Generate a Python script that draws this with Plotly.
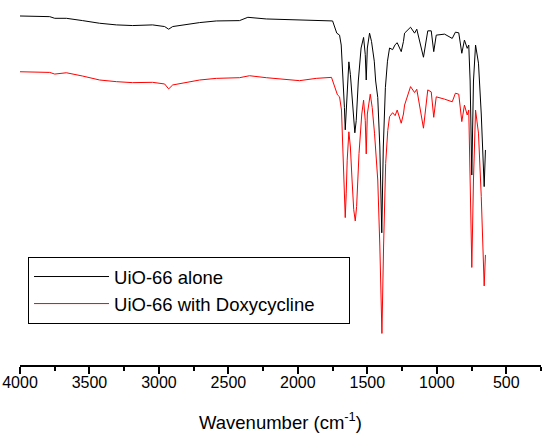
import plotly.graph_objects as go

# Wavenumbers (cm-1) and transmittance (arbitrary %)
wn_alone = [4000, 3786, 3750, 3666, 3549, 3427, 3306, 3189, 3046, 2959, 2930, 2901,
            2707, 2587, 2420, 2360, 2227, 1988, 1772, 1750, 1720, 1700, 1688, 1675,
            1665, 1659, 1652, 1645, 1633, 1622, 1610, 1598, 1590, 1580, 1565, 1545,
            1527, 1515, 1508, 1500, 1484, 1470, 1450, 1440, 1432, 1425, 1410, 1396,
            1385, 1370, 1355, 1340, 1318, 1300, 1285, 1256, 1240, 1232, 1189, 1160,
            1144, 1096, 1065, 1040, 1022, 1004, 944, 889, 866, 842, 820, 801, 781,
            770, 760, 748, 736, 721, 700, 680, 659, 650]
t_alone = [99.7, 99.5, 99.0, 99.0, 98.3, 97.5, 97.0, 96.8, 97.0, 96.5, 95.7, 96.5,
           97.7, 98.2, 98.3, 99.3, 98.8, 98.5, 98.3, 98.2, 94.5, 93.9, 90.9, 82.0,
           72.0, 65.2, 70.0, 78.0, 85.8, 82.0, 75.0, 67.0, 64.3, 68.0, 80.0, 90.0,
           93.2, 88.0, 80.3, 90.0, 94.5, 92.0, 86.0, 80.0, 77.9, 75.0, 60.0, 34.0,
           60.0, 78.0, 86.0, 90.0, 89.5, 91.0, 91.6, 88.9, 92.0, 94.5, 96.3, 94.5,
           95.7, 87.2, 95.2, 95.2, 88.9, 93.9, 94.2, 92.9, 94.8, 94.6, 88.4, 92.4, 89.9,
           90.9, 80.0, 51.5, 80.0, 90.9, 85.4, 70.0, 48.0, 59.1]

wn_doxy = [4000, 3786, 3750, 3666, 3549, 3427, 3306, 3189, 3046, 2959, 2930, 2901,
           2707, 2587, 2420, 2348, 2227, 2131, 1988, 1868, 1758, 1715, 1700, 1686,
           1675, 1665, 1659, 1652, 1645, 1633, 1622, 1610, 1598, 1587, 1577, 1560,
           1540, 1527, 1515, 1508, 1500, 1479, 1465, 1448, 1438, 1432, 1425, 1410,
           1395, 1383, 1368, 1353, 1340, 1318, 1300, 1285, 1256, 1240, 1232, 1189,
           1160, 1144, 1096, 1065, 1040, 1022, 1004, 944, 889, 866, 842, 820, 801,
           781, 770, 760, 748, 736, 721, 700, 680, 659, 650]
t_doxy = [82.8, 82.6, 82.1, 82.5, 81.5, 80.3, 79.8, 79.5, 79.6, 79.1, 77.6, 78.8,
          80.3, 80.8, 81.0, 81.6, 81.0, 80.6, 80.1, 80.8, 81.1, 75.8, 75.2, 71.2,
          60.0, 46.0, 38.6, 46.0, 56.0, 64.6, 60.0, 50.0, 41.0, 37.6, 42.0, 58.0,
          70.0, 74.2, 68.0, 57.9, 70.0, 76.0, 72.0, 64.0, 58.0, 55.2, 50.0, 30.0,
          3.5, 30.0, 55.0, 65.0, 69.2, 70.4, 69.5, 71.2, 67.2, 70.0, 72.7, 78.3,
          76.5, 77.5, 65.7, 77.3, 76.7, 69.0, 75.2, 74.5, 73.7, 76.3, 76.0, 67.7, 72.7,
          69.7, 71.2, 50.0, 23.5, 50.0, 71.2, 64.2, 45.0, 17.9, 27.3]

x_ticks = [4000, 3500, 3000, 2500, 2000, 1500, 1000, 500]

FONT = "Liberation Sans, Arial, sans-serif"

fig = go.Figure()
fig.add_trace(go.Scatter(x=wn_doxy, y=t_doxy, mode="lines", name="UiO-66 with Doxycycline",
                         line=dict(color="#ff0000", width=1)))
fig.add_trace(go.Scatter(x=wn_alone, y=t_alone, mode="lines", name="UiO-66 alone",
                         line=dict(color="#000000", width=1)))

fig.update_layout(
    width=550, height=433,
    margin=dict(l=20, r=9, t=5, b=68),
    paper_bgcolor="white", plot_bgcolor="white",
    font=dict(family=FONT, color="black", size=16),
    showlegend=True,
    legend=dict(x=0.0154, y=0.3, xanchor="left", yanchor="top",
                orientation="h", entrywidth=230, entrywidthmode="pixels",
                traceorder="reversed",
                bordercolor="black", borderwidth=1, bgcolor="white",
                font=dict(size=18.5, family=FONT), itemwidth=75,
                tracegroupgap=0),
    xaxis=dict(range=[4000, 250], tickvals=x_ticks, ticktext=[str(v) for v in x_ticks],
               automargin=False,
               showgrid=False, zeroline=False, showline=True, linecolor="black",
               linewidth=1.5, ticks="outside", ticklen=7, tickwidth=1.5,
               tickcolor="black", tickfont=dict(size=16, family=FONT),
               ticklabelstandoff=-5,
               minor=dict(dtick=250, tick0=0, ticks="outside", ticklen=4,
                          tickwidth=1.5, tickcolor="black"),
               title=dict(text="Wavenumber (cm<sup>-1</sup>)",
                          font=dict(size=18.5, family=FONT), standoff=27)),
    yaxis=dict(range=[-6.06, 103.03], visible=False, fixedrange=True, automargin=False),
)

fig.write_html("out.html", config={"displayModeBar": False},
               post_script="document.body.style.margin='0';document.body.style.padding='0';")
